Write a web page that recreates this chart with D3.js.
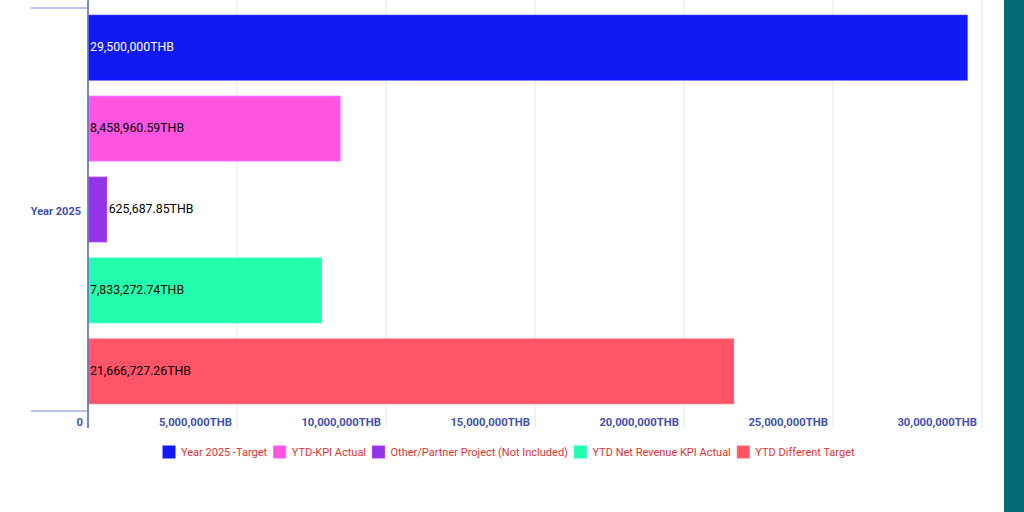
<!DOCTYPE html>
<html lang="en">
<head>
<meta charset="UTF-8">
<title>Year 2025 KPI</title>
<script src="https://cdnjs.cloudflare.com/ajax/libs/d3/7.8.5/d3.min.js"></script>
<style>
    body { margin: 0; background: #fff; font-family: Roboto, sans-serif; }
    #strip { position: absolute; left: 1004px; top: 0; width: 20px; height: 512px; background: #056a74; }
</style>
</head>
<body>
<svg id="chart" width="1024" height="512"></svg>
<div id="strip"></div>
<script>
    const category = "Year 2025";
    const seriesNames = ["Year 2025 -Target", "YTD-KPI Actual", "Other/Partner Project (Not Included)", "YTD Net Revenue KPI Actual", "YTD Different Target"];
    const seriesValues = [29500000, 8458960.59, 625687.85, 7833272.74, 21666727.26];
    const seriesLabels = ["29,500,000THB", "8,458,960.59THB", "625,687.85THB", "7,833,272.74THB", "21,666,727.26THB"];
    const seriesColors = ["#1119f5", "#ff55e0", "#9333e8", "#22ffac", "#ff5566"];
    const tickValues = [0, 5000000, 10000000, 15000000, 20000000, 25000000, 30000000];

    const svg = d3.select("#chart");
    const plotLeft = 88, plotRight = 982, plotTop = 8, plotBottom = 411;

    const x = d3.scaleLinear().domain([0, 30000000]).range([plotLeft, plotRight]);
    const y0 = d3.scaleBand().domain([category]).range([plotTop, plotBottom]);
    const y1 = d3.scaleBand().domain(seriesNames).range([0, y0.bandwidth()])
        .paddingInner(0.2).paddingOuter(0.09);

    // gridlines
    svg.append("g").selectAll("line").data(tickValues.slice(1)).join("line")
        .attr("x1", d => x(d)).attr("x2", d => x(d))
        .attr("y1", 0).attr("y2", 428)
        .attr("stroke", "#e4e4f2").attr("stroke-width", 1);

    // bars
    const g = svg.append("g").attr("transform", `translate(0,${y0(category)})`);
    const data = seriesNames.map((n, i) => ({ name: n, value: seriesValues[i], label: seriesLabels[i], color: seriesColors[i] }));
    g.selectAll("rect").data(data).join("rect")
        .attr("x", x(0) + 1)
        .attr("y", d => y1(d.name))
        .attr("width", d => x(d.value) - x(0) - 1)
        .attr("height", y1.bandwidth())
        .attr("fill", d => d.color)
        .attr("stroke", d => d3.color(d.color).brighter(0.4))
        .attr("stroke-width", 1);

    g.selectAll("text").data(data).join("text")
        .attr("x", d => x(d.value) > x(0) + 120 ? x(0) + 2 : x(d.value) + 2)
        .attr("y", d => y1(d.name) + y1.bandwidth() / 2 - 1)
        .attr("dy", "0.35em")
        .attr("font-size", 12.3)
        .attr("fill", (d, i) => i === 0 ? "#ffffff" : "#000000")
        .text(d => d.label);

    // y axis
    svg.append("line").attr("x1", plotLeft).attr("x2", plotLeft).attr("y1", 0).attr("y2", 428)
        .attr("stroke", "#4a5cc8").attr("stroke-width", 1.5);
    svg.selectAll(".cat-line").data([plotTop, plotBottom]).join("line")
        .attr("x1", 31).attr("x2", plotLeft).attr("y1", d => d).attr("y2", d => d)
        .attr("stroke", "#7986d8").attr("stroke-width", 1);
    svg.append("text")
        .attr("x", 81).attr("y", y0(category) + y0.bandwidth() / 2 + 2)
        .attr("dy", "0.35em").attr("text-anchor", "end")
        .attr("font-size", 11).attr("font-weight", "bold").attr("fill", "#3f51b5")
        .text(category);

    // x axis tick labels
    svg.append("g").selectAll("text").data(tickValues).join("text")
        .attr("x", d => x(d) - 5)
        .attr("y", 422).attr("dy", "0.35em")
        .attr("text-anchor", "end")
        .attr("font-size", 11.3).attr("font-weight", "bold").attr("fill", "#3f51b5")
        .text(d => d === 0 ? "0" : d3.format(",")(d) + "THB");

    // legend
    const legend = svg.append("g").attr("transform", "translate(163,452)");
    let lx = 0;
    data.forEach(d => {
        const item = legend.append("g").attr("transform", `translate(${lx},0)`);
        item.append("rect").attr("x", 0).attr("y", -6).attr("width", 12).attr("height", 12)
            .attr("fill", d.color).attr("stroke", d3.color(d.color).brighter(0.4));
        const t = item.append("text").attr("x", 18).attr("dy", "0.35em")
            .attr("font-size", 11).attr("fill", "#e8302f").text(d.name);
        lx += 18 + t.node().getComputedTextLength() + 6.5;
    });
</script>
</body>
</html>
